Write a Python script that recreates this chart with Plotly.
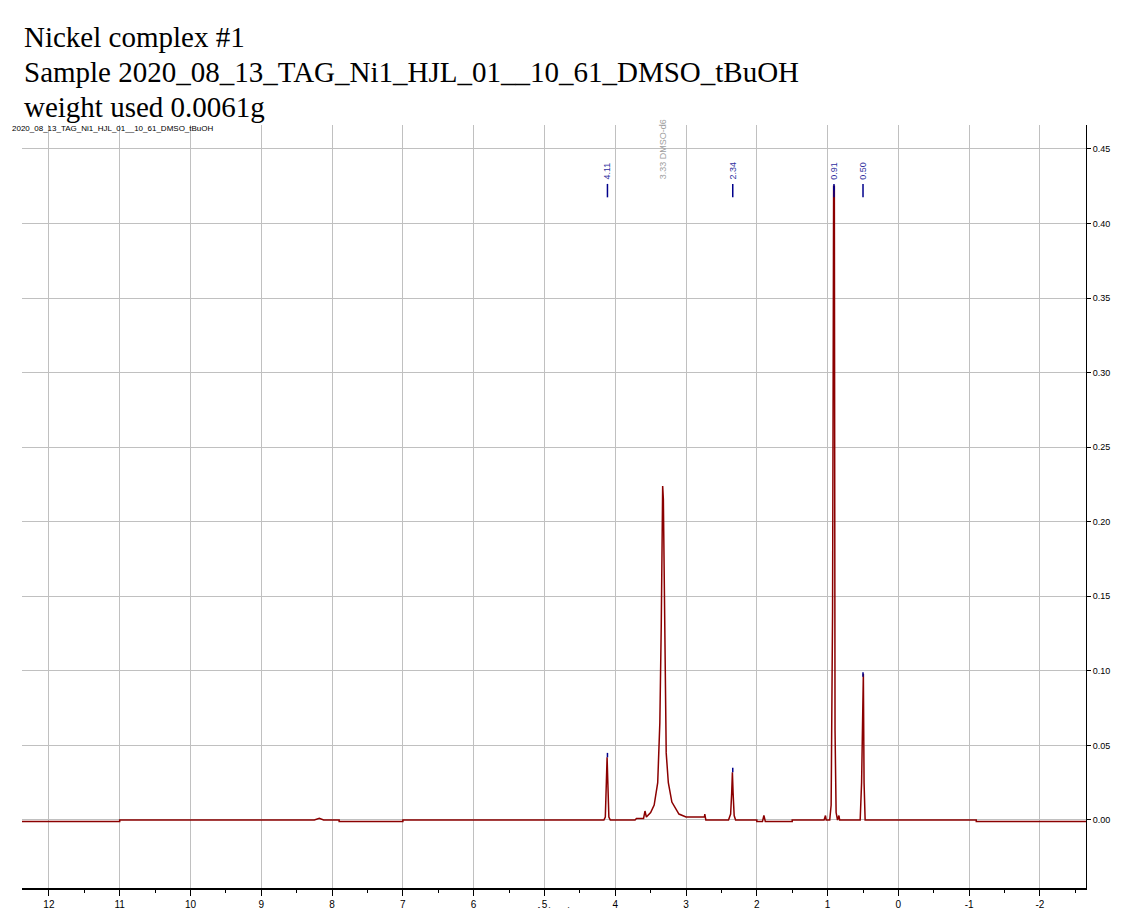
import plotly.graph_objects as go

# spectrum points (ppm, intensity)
ppm = [12.4, 11.0, 11.0, 8.25, 8.18, 8.12, 7.9, 7.9, 7.0, 7.0, 4.16, 4.14, 4.125, 4.115, 4.105, 4.09, 4.07,
       3.72, 3.7, 3.6, 3.58, 3.56, 3.5, 3.45, 3.4, 3.37, 3.35, 3.34, 3.33, 3.32, 3.31, 3.30, 3.28, 3.25, 3.2,
       3.1, 3.0, 2.9, 2.74, 2.735, 2.73, 2.72, 2.4, 2.37, 2.355, 2.345, 2.335, 2.32, 2.3, 2.0, 2.0, 1.92, 1.9,
       1.88, 1.5, 1.5, 1.05, 1.03, 1.02, 0.97, 0.95, 0.93, 0.915, 0.905, 0.895, 0.88, 0.86, 0.84, 0.83,
       0.54, 0.52, 0.505, 0.495, 0.485, 0.47, -1.1, -1.1, -2.7]
intensity = [-0.001, -0.001, 0, 0, 0.0012, 0, 0, -0.001, -0.001, 0, 0, 0.002, 0.026, 0.042, 0.026, 0.002, 0,
             0, 0.001, 0.001, 0.006, 0.002, 0.005, 0.01, 0.025, 0.065, 0.13, 0.19, 0.224, 0.215, 0.17, 0.1,
             0.045, 0.025, 0.012, 0.004, 0.002, 0.002, 0.002, 0.004, 0.002, 0, 0, 0.004, 0.018, 0.032, 0.018,
             0.003, 0, 0, -0.001, -0.001, 0.003, -0.001, -0.001, 0, 0, 0.003, 0, 0, 0.01, 0.14, 0.425, 0.425,
             0.06, 0.005, 0, 0.003, 0, 0, 0.025, 0.098, 0.098, 0.025, 0, 0, -0.001, -0.001]

# peak picks
peak_ppm = [4.11, 2.34, 0.91, 0.50]
peak_top = [0.045, 0.035, 0.425, 0.099]
solvent_ppm = 3.33
solvent_label = "3.33 DMSO-d6"

title_lines = ["Nickel complex #1",
               "Sample 2020_08_13_TAG_Ni1_HJL_01__10_61_DMSO_tBuOH",
               "weight used 0.0061g"]

x_ticks = [12, 11, 10, 9, 8, 7, 6, 5, 4, 3, 2, 1, 0, -1, -2]

fig = go.Figure()
fig.add_trace(go.Scatter(x=ppm, y=intensity, mode="lines",
                         line=dict(color="#8B0000", width=1.5), hoverinfo="skip"))

# blue pick markers above peaks and small ticks at peak tops
for p, t in zip(peak_ppm, peak_top):
    fig.add_trace(go.Scatter(x=[p, p], y=[0.4175, 0.4265], mode="lines",
                             line=dict(color="#00008B", width=1.5), hoverinfo="skip"))
    fig.add_trace(go.Scatter(x=[p, p], y=[t - 0.003, t], mode="lines",
                             line=dict(color="#00008B", width=1.5), hoverinfo="skip"))
    fig.add_annotation(x=p, y=0.428, text=f"{p:.2f}", textangle=-90, showarrow=False,
                       yanchor="bottom", font=dict(family="Arial", size=9, color="#3030A0"))
fig.add_annotation(x=solvent_ppm, y=0.428, text=solvent_label, textangle=-90, showarrow=False,
                   yanchor="bottom", font=dict(family="Arial", size=9, color="#A0A0A0"))

fig.add_annotation(xref="paper", yref="paper", x=0, y=1, xanchor="left", yanchor="bottom",
                   text="2020_08_13_TAG_Ni1_HJL_01__10_61_DMSO_tBuOH", showarrow=False,
                   font=dict(family="Arial", size=8, color="black"), xshift=-12, yshift=-10)

for i, line in enumerate(title_lines):
    fig.add_annotation(xref="paper", yref="paper", x=0, y=1, xanchor="left", yanchor="middle",
                       text=line, showarrow=False, xshift=0, yshift=88 - 35 * i,
                       font=dict(family="Liberation Serif", size=29, color="black"))

fig.update_layout(
    width=1131, height=908,
    margin=dict(l=14, r=53, t=117, b=28),
    paper_bgcolor="white", plot_bgcolor="white",
    showlegend=False,
)
fig.update_xaxes(range=[12.38, -2.65], tickvals=x_ticks, ticktext=[str(v) for v in x_ticks],
                 showgrid=True, gridcolor="#C0C0C0", automargin=False,
                 zeroline=False, showline=True, linecolor="black", linewidth=2,
                 ticks="outside", ticklen=6, tickcolor="black",
                 minor=dict(dtick=0.5, ticks="outside", ticklen=3, tickcolor="black", showgrid=False),
                 tickfont=dict(family="Arial", size=10, color="black"),
                 title=dict(text="f1 (ppm)", standoff=2, font=dict(family="Arial", size=9, color="black")))
fig.update_yaxes(range=[-0.0456, 0.466], dtick=0.05, tickformat=".2f", side="right",
                 showgrid=True, gridcolor="#C0C0C0", zeroline=False, automargin=False,
                 showline=True, linecolor="black", linewidth=1,
                 ticks="outside", ticklen=4, tickcolor="black",
                 tickfont=dict(family="Arial", size=9, color="black"))

fig.write_html("out.html")
